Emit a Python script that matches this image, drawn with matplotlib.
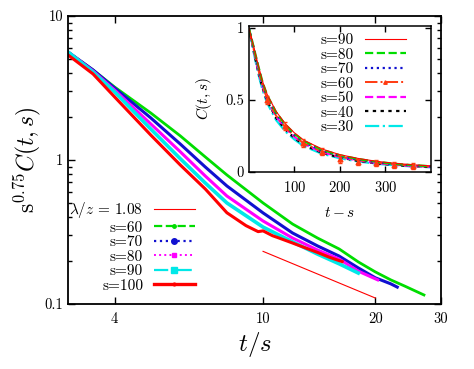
import numpy as np
import matplotlib
matplotlib.use("Agg")
import matplotlib.pyplot as plt
from matplotlib.lines import Line2D

plt.rcParams["font.family"] = ["cmr10", "DejaVu Serif"]
plt.rcParams["mathtext.fontset"] = "cm"
plt.rcParams["axes.formatter.use_mathtext"] = True

# main panel: s^0.75 C(t,s) vs t/s
x_60 = [3, 3.5, 4, 5, 6, 7, 8, 10, 12, 14, 16, 18, 20, 22, 24, 27]
y_60 = [5.62, 4.22, 3.21, 2.12, 1.47, 1.05, 0.787, 0.503, 0.359, 0.287, 0.241, 0.196, 0.167, 0.147, 0.133, 0.1155]
x_70 = [3, 3.5, 4, 5, 6, 7, 8, 10, 12, 14, 16, 18, 20, 22, 22.9]
y_70 = [5.62, 4.22, 3.16, 1.96, 1.29, 0.894, 0.660, 0.429, 0.311, 0.253, 0.215, 0.178, 0.152, 0.138, 0.131]
x_80 = [3, 3.5, 4, 5, 6, 7, 8, 10, 12, 14, 16, 18, 20.3]
y_80 = [5.62, 4.15, 3.06, 1.78, 1.14, 0.774, 0.562, 0.377, 0.287, 0.237, 0.205, 0.169, 0.147]
x_90 = [3, 3.5, 4, 5, 6, 7, 8, 10, 12, 14, 16, 18]
y_90 = [5.62, 4.08, 2.97, 1.64, 1.02, 0.692, 0.503, 0.342, 0.270, 0.222, 0.190, 0.164]
x_100 = [3, 3.5, 4, 5, 6, 7, 8, 9, 9.7, 10, 10.6, 11, 12, 13, 14, 15, 16, 16.3]
y_100 = [5.36, 3.96, 2.74, 1.49, 0.923, 0.629, 0.43, 0.35, 0.318, 0.322, 0.298, 0.288, 0.265, 0.245, 0.228, 0.212, 0.200, 0.197]
x_fit = [10, 20]
y_fit = [0.232, 0.110]

# inset: C(t,s) vs t-s
tms = [0, 10, 20, 30, 40, 60, 80, 100, 120, 160, 200, 240, 280, 320, 360, 400]
c_90 = [1.0, 0.88, 0.75, 0.63, 0.54, 0.42, 0.335, 0.272, 0.222, 0.160, 0.120, 0.094, 0.074, 0.060, 0.050, 0.042]
c_80 = [1.0, 0.875, 0.745, 0.625, 0.535, 0.414, 0.329, 0.266, 0.216, 0.155, 0.116, 0.090, 0.071, 0.057, 0.047, 0.040]
c_70 = [1.0, 0.87, 0.735, 0.615, 0.525, 0.405, 0.320, 0.258, 0.209, 0.149, 0.111, 0.086, 0.068, 0.054, 0.045, 0.038]
c_60 = [1.0, 0.86, 0.72, 0.60, 0.51, 0.39, 0.31, 0.25, 0.20, 0.143, 0.107, 0.083, 0.065, 0.052, 0.043, 0.037]
c_50 = [1.0, 0.855, 0.715, 0.595, 0.505, 0.385, 0.304, 0.245, 0.196, 0.139, 0.104, 0.080, 0.063, 0.050, 0.042, 0.036]
c_40 = [1.0, 0.85, 0.705, 0.585, 0.495, 0.375, 0.295, 0.237, 0.189, 0.134, 0.100, 0.077, 0.060, 0.048, 0.040, 0.034]
c_30 = [1.0, 0.84, 0.69, 0.57, 0.48, 0.36, 0.282, 0.226, 0.180, 0.127, 0.095, 0.073, 0.057, 0.046, 0.038, 0.032]
err_t = [40, 80, 120, 160, 200, 240, 280, 320, 360]
err_c = [0.50, 0.32, 0.20, 0.14, 0.09, 0.07, 0.06, 0.05, 0.04]
err_d = [0.03, 0.03, 0.03, 0.025, 0.025, 0.02, 0.02, 0.02, 0.02]

RED, GREEN, BLUE, MAG, CYAN, ORG = "#ff0000", "#00dd00", "#1010d0", "#ff00ff", "#00e8e8", "#ff3a10"

fig = plt.figure(figsize=(4.74, 3.69), dpi=100)
ax = fig.add_axes([0.1435, 0.1762, 0.7869, 0.7805])

ax.plot(x_60, y_60, color=GREEN, lw=2.0)
ax.plot(x_70, y_70, color=BLUE, lw=2.2)
ax.plot(x_80, y_80, color=MAG, lw=2.2)
ax.plot(x_90, y_90, color=CYAN, lw=2.6)
ax.plot(x_100, y_100, color=RED, lw=2.2)
ax.plot(x_fit, y_fit, color=RED, lw=0.8)

ax.set_xscale("log")
ax.set_yscale("log")
ax.set_xlim(3, 30)
ax.set_ylim(0.1, 10)
ax.set_xticks([4, 10, 20, 30])
ax.set_xticklabels(["4", "10", "20", "30"])
ax.xaxis.set_minor_locator(matplotlib.ticker.NullLocator())
ax.set_yticks([0.1, 1, 10])
ax.set_yticklabels(["0.1", "1", "10"])
ax.tick_params(which="both", direction="in", top=True, right=True, labelsize=10.5, width=1)
ax.tick_params(which="major", length=5)
ax.tick_params(which="minor", length=3)
ax.tick_params(axis="x", pad=6)
for sp in ax.spines.values():
    sp.set_linewidth(1.3)
ax.set_xlabel(r"$t/s$", fontsize=18, labelpad=3)
ax.set_ylabel(r"$\mathrm{s}^{0.75}C(t,s)$", fontsize=17, labelpad=1)

handles = [
    Line2D([], [], color=RED, lw=0.8),
    Line2D([], [], color=GREEN, lw=1.6, ls="--", marker="o", ms=2.5),
    Line2D([], [], color=BLUE, lw=1.6, ls=":", marker="o", ms=4),
    Line2D([], [], color=MAG, lw=1.4, ls=":", marker="s", ms=3),
    Line2D([], [], color=CYAN, lw=1.6, ls="-.", marker="s", ms=4),
    Line2D([], [], color=RED, lw=2.4, marker="o", ms=2),
]
labels = [r"$\lambda/z\,=\,1.08$", "s=60", "s=70", "s=80", "s=90", "s=100"]
ax.legend(handles, labels, loc="center", bbox_to_anchor=(0.172, 0.2), frameon=False,
          markerfirst=False, fontsize=11, handlelength=2.7, handletextpad=0.7,
          labelspacing=0.05, borderpad=0)

# inset
ins = fig.add_axes([0.525, 0.534, 0.384, 0.396])
ins.plot(tms, c_30, color=CYAN, lw=1.6, ls="-.")
ins.plot(tms, c_40, color="black", lw=1.6, ls=(0, (1.5, 2)))
ins.plot(tms, c_50, color=MAG, lw=1.6, ls="--")
ins.plot(tms, c_60, color=ORG, lw=1.4, ls="-.")
ins.plot(tms, c_70, color=BLUE, lw=1.6, ls=":")
ins.plot(tms, c_80, color=GREEN, lw=1.6, ls="--")
ins.plot(tms, c_90, color=RED, lw=0.8)
ins.errorbar(err_t, err_c, yerr=err_d, fmt="^", color=ORG, ms=3.5, elinewidth=0.9, capsize=1.5)
ins.set_xlim(0, 400)
ins.set_ylim(0, 1.015)
ins.set_xticks([100, 200, 300])
ins.set_yticks([0, 0.5, 1])
ins.set_yticklabels(["0", "0.5", "1"])
ins.tick_params(direction="in", top=True, right=True, labelsize=10.5, length=4, width=1)
ins.tick_params(axis="x", pad=5.5)
for sp in ins.spines.values():
    sp.set_linewidth(1.1)
ins.set_xlabel(r"$t-s$", fontsize=11, labelpad=8)
ins.set_ylabel(r"$C(t,s)$", fontsize=11, labelpad=8)

ih = [
    Line2D([], [], color=RED, lw=0.8),
    Line2D([], [], color=GREEN, lw=1.6, ls="--"),
    Line2D([], [], color=BLUE, lw=1.6, ls=":"),
    Line2D([], [], color=ORG, lw=1.4, ls="-.", marker="^", ms=2.5),
    Line2D([], [], color=MAG, lw=1.6, ls="--"),
    Line2D([], [], color="black", lw=1.6, ls=(0, (1.5, 2))),
    Line2D([], [], color=CYAN, lw=1.6, ls="-."),
]
il = ["s=90", "s=80", "s=70", "s=60", "s=50", "s=40", "s=30"]
ins.legend(ih, il, loc="upper right", bbox_to_anchor=(0.905, 1.0), frameon=False,
           markerfirst=False, fontsize=11, handlelength=2.7, handletextpad=0.7,
           labelspacing=0.05, borderpad=0)

fig.savefig("out.png", dpi=100)
